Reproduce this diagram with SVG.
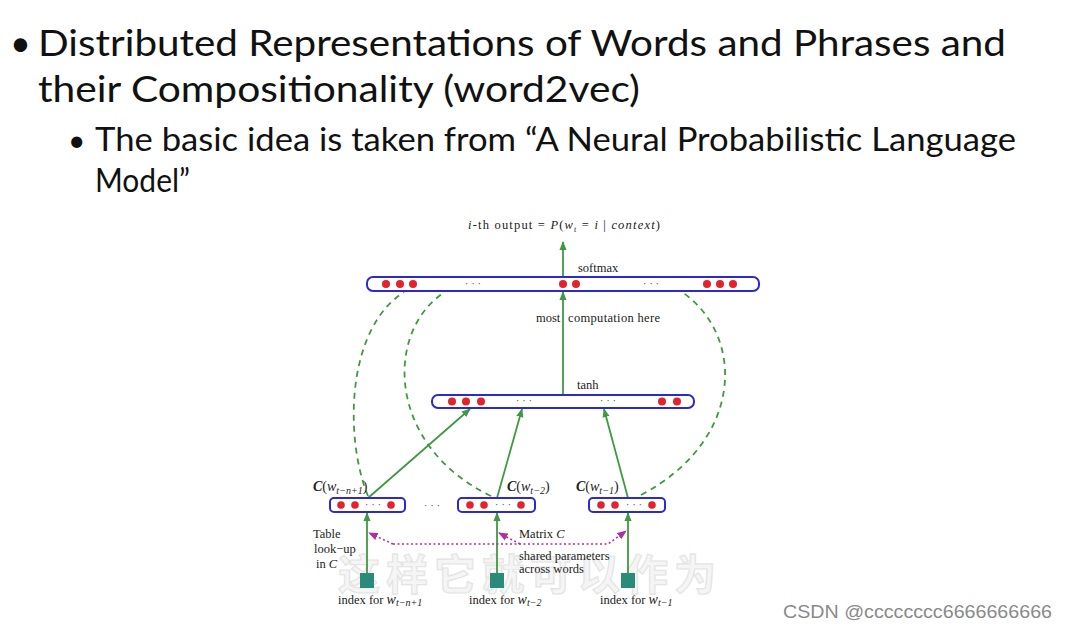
<svg xmlns="http://www.w3.org/2000/svg" width="1069" height="630" viewBox="0 0 1069 630">
<style>
.h{font-family:Lato,"Open Sans",sans-serif;fill:#111}
.t{font-family:"Liberation Serif",serif;fill:#222;font-size:12.5px}
.ti{font-family:"Liberation Serif",serif;fill:#222;font-style:italic}
.box{fill:#fff;stroke:#2a2ad0;stroke-width:2}
.dot{fill:#e3222b}
.ell{font-family:"Liberation Serif",serif;fill:#555;font-size:11px}
.g{stroke:#3f9a3f;stroke-width:1.8;fill:none}
.gd{stroke:#3f9a3f;stroke-width:1.8;fill:none;stroke-dasharray:6 5}
.m{stroke:#b02fa0;stroke-width:1.6;fill:none;stroke-dasharray:2 2.5}
.sq{fill:#2a8c78}
</style>
<defs>
<marker id="ag" viewBox="0 0 10 10" refX="9" refY="5" markerWidth="5" markerHeight="5" orient="auto"><path d="M0,1 L10,5 L0,9 z" fill="#3f9a3f"/></marker>
<marker id="am" viewBox="0 0 10 10" refX="9" refY="5" markerWidth="6" markerHeight="6" orient="auto"><path d="M0,1 L10,5 L0,9 z" fill="#b02fa0"/></marker>
</defs>
<rect width="1069" height="630" fill="#fff"/>

<g id="title">
<text class="h" x="10" y="56" font-size="36">•</text>
<text class="h" x="38" y="56" font-size="36" textLength="968" lengthAdjust="spacingAndGlyphs">Distributed Representations of Words and Phrases and</text>
<text class="h" x="38" y="102" font-size="36" textLength="602" lengthAdjust="spacingAndGlyphs">their Compositionality (word2vec)</text>
<text class="h" x="68" y="151" font-size="30">•</text>
<text class="h" x="95" y="151" font-size="32" textLength="921" lengthAdjust="spacingAndGlyphs">The basic idea is taken from “A Neural Probabilistic Language</text>
<text class="h" x="95" y="192" font-size="32" textLength="95" lengthAdjust="spacingAndGlyphs">Model”</text>
</g>

<g id="subtitle-watermark">
<text x="530" y="590" text-anchor="middle" font-family="'Noto Sans CJK SC',sans-serif" font-size="42" font-weight="bold" fill="#f5f5f5" stroke="#e4e4e4" stroke-width="1.2" letter-spacing="6">这样它就可以作为</text>
</g>

<g id="connectors">
<path class="g" d="M563,277 L563,242" marker-end="url(#ag)"/>
<path class="g" d="M563,395 L563,292" marker-end="url(#ag)"/>
<path class="g" d="M368,498 L470,409" marker-end="url(#ag)"/>
<path class="g" d="M497,498 L522,409" marker-end="url(#ag)"/>
<path class="g" d="M628,498 L604,409" marker-end="url(#ag)"/>
<path class="g" d="M367,573 L367,513" marker-end="url(#ag)"/>
<path class="g" d="M497,573 L497,513" marker-end="url(#ag)"/>
<path class="g" d="M628,573 L628,513" marker-end="url(#ag)"/>
<path class="gd" d="M368,496 C345,440 345,330 404,292"/>
<path class="gd" d="M491,496 C385,445 385,330 445,292"/>
<path class="gd" d="M641,495 C745,440 745,335 682,292"/>
<path class="m" d="M393,544 L369,533" marker-end="url(#am)"/>
<path class="m" d="M393,544 L608,544 L626,531" marker-end="url(#am)"/>
<path class="m" d="M520,544 L499,533" marker-end="url(#am)"/>
</g>

<g id="output-label">
<text class="t" x="468" y="229" font-size="13" textLength="192" lengthAdjust="spacing"><tspan font-style="italic">i</tspan>-th output = <tspan font-style="italic">P</tspan>(<tspan font-style="italic">w</tspan><tspan font-style="italic" font-size="8" dy="3">t</tspan><tspan dy="-3">  =  </tspan><tspan font-style="italic">i</tspan> | <tspan font-style="italic">context</tspan>)</text>
</g>

<g id="softmax-layer">
<rect class="box" x="367" y="277" width="392" height="14" rx="6"/>
<circle class="dot" cx="386" cy="284" r="4"/><circle class="dot" cx="400" cy="284" r="4"/><circle class="dot" cx="413" cy="284" r="4"/>
<circle class="dot" cx="563" cy="284" r="4"/><circle class="dot" cx="576" cy="284" r="4"/>
<circle class="dot" cx="707" cy="284" r="4"/><circle class="dot" cx="720" cy="284" r="4"/><circle class="dot" cx="733" cy="284" r="4"/>
<text class="ell" x="473" y="287" text-anchor="middle">· · ·</text>
<text class="ell" x="651" y="287" text-anchor="middle">· · ·</text>
<text class="t" x="578" y="272" font-size="12">softmax</text>
<text class="t" x="536" y="322" font-size="12">most</text>
<text class="t" x="568" y="322" font-size="12" textLength="92">computation here</text>
</g>

<g id="tanh-layer">
<rect class="box" x="432" y="395" width="262" height="13" rx="6"/>
<circle class="dot" cx="452" cy="401.5" r="4"/><circle class="dot" cx="466" cy="401.5" r="4"/><circle class="dot" cx="481" cy="401.5" r="4"/>
<circle class="dot" cx="662" cy="401.5" r="4"/><circle class="dot" cx="677" cy="401.5" r="4"/>
<text class="ell" x="524" y="404" text-anchor="middle">· · ·</text>
<text class="ell" x="608" y="404" text-anchor="middle">· · ·</text>
<text class="t" x="577" y="389" font-size="12">tanh</text>
</g>

<g id="embed-1">
<rect class="box" x="330" y="498" width="75" height="14" rx="4"/>
<circle class="dot" cx="341" cy="505" r="3.8"/><circle class="dot" cx="355" cy="505" r="3.8"/><circle class="dot" cx="391" cy="505" r="3.8"/>
<text class="ell" x="373" y="508" text-anchor="middle">· · ·</text>
<text class="ti" x="313" y="491" font-size="14" font-weight="bold">C<tspan font-style="normal" font-weight="normal">(</tspan><tspan font-weight="normal">w</tspan><tspan font-size="10" dy="3" font-weight="normal">t−n+1</tspan><tspan dy="-3" font-style="normal" font-weight="normal">)</tspan></text>
</g>
<text class="ell" x="432" y="509" text-anchor="middle">· · ·</text>

<g id="embed-2">
<rect class="box" x="458" y="498" width="77" height="14" rx="4"/>
<circle class="dot" cx="470" cy="505" r="3.8"/><circle class="dot" cx="484" cy="505" r="3.8"/><circle class="dot" cx="521" cy="505" r="3.8"/>
<text class="ell" x="503" y="508" text-anchor="middle">· · ·</text>
<text class="ti" x="507" y="491" font-size="14" font-weight="bold">C<tspan font-style="normal" font-weight="normal">(</tspan><tspan font-weight="normal">w</tspan><tspan font-size="10" dy="3" font-weight="normal">t−2</tspan><tspan dy="-3" font-style="normal" font-weight="normal">)</tspan></text>
</g>

<g id="embed-3">
<rect class="box" x="589" y="498" width="76" height="14" rx="4"/>
<circle class="dot" cx="601" cy="505" r="3.8"/><circle class="dot" cx="615" cy="505" r="3.8"/><circle class="dot" cx="652" cy="505" r="3.8"/>
<text class="ell" x="634" y="508" text-anchor="middle">· · ·</text>
<text class="ti" x="576" y="491" font-size="14" font-weight="bold">C<tspan font-style="normal" font-weight="normal">(</tspan><tspan font-weight="normal">w</tspan><tspan font-size="10" dy="3" font-weight="normal">t−1</tspan><tspan dy="-3" font-style="normal" font-weight="normal">)</tspan></text>
</g>

<g id="matrix-labels">
<text class="t" x="313" y="538">Table</text>
<text class="t" x="314" y="553">look−up</text>
<text class="t" x="316" y="568">in <tspan font-style="italic">C</tspan></text>
<text class="t" x="519" y="538" font-size="13">Matrix <tspan font-style="italic">C</tspan></text>
<text class="t" x="519" y="560">shared parameters</text>
<text class="t" x="519" y="573">across words</text>
</g>

<g id="index-1">
<rect class="sq" x="360" y="573" width="14" height="15"/>
<text class="t" x="338" y="604" font-size="13">index for <tspan font-style="italic" font-size="14">w</tspan><tspan font-style="italic" font-size="10" dy="2">t−n+1</tspan></text>
</g>
<g id="index-2">
<rect class="sq" x="490" y="573" width="14" height="15"/>
<text class="t" x="469" y="604" font-size="13">index for <tspan font-style="italic" font-size="14">w</tspan><tspan font-style="italic" font-size="10" dy="2">t−2</tspan></text>
</g>
<g id="index-3">
<rect class="sq" x="621" y="573" width="14" height="15"/>
<text class="t" x="600" y="604" font-size="13">index for <tspan font-style="italic" font-size="14">w</tspan><tspan font-style="italic" font-size="10" dy="2">t−1</tspan></text>
</g>

<g id="csdn-watermark">
<text x="783" y="618" font-family="'Liberation Sans',sans-serif" font-size="18.5" fill="#8a8a8a" textLength="269" lengthAdjust="spacingAndGlyphs">CSDN @cccccccc6666666666</text>
</g>
</svg>
